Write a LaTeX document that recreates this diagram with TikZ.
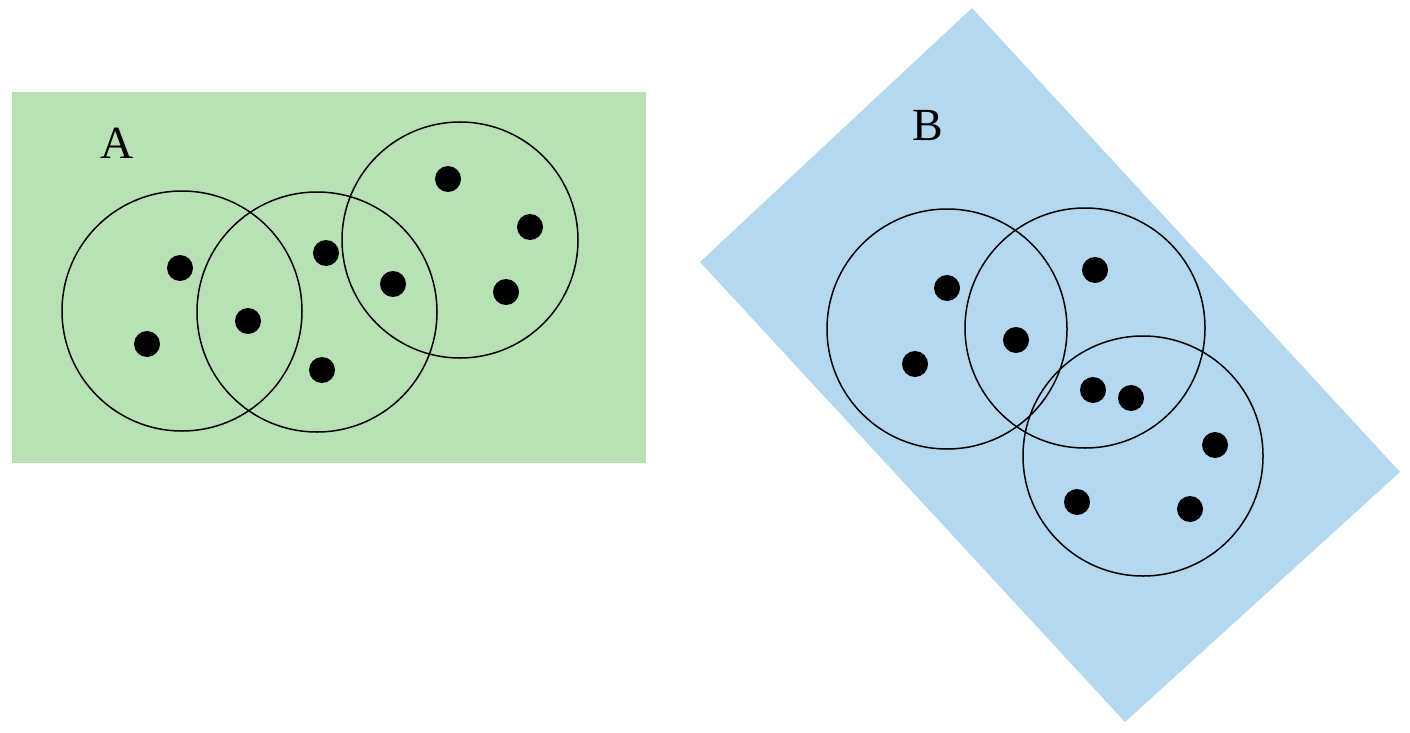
\documentclass[tikz,border=0pt]{standalone}
\usepackage{fontspec}
\setmainfont{Liberation Serif}
\definecolor{gA}{HTML}{B9E1B6}
\definecolor{bB}{HTML}{B3D8EF}
\begin{document}
\begin{tikzpicture}[x=1pt,y=-1pt,
  ring/.style={draw=black,line width=1.5pt},
  pt/.style={fill=black},
  lab/.style={font=\fontsize{46}{46}\selectfont}]
\useasboundingbox (0,0) rectangle (1410,733);
\fill[gA] (12,92) rectangle (646,463);
\fill[bB] (972,8) -- (1400,472) -- (1125,722) -- (700,262) -- cycle;
\foreach \x/\y/\r in {182/311/120,317/312/120,460/240/118,947/329/120,1085/328/120,1143/456/120}
  \draw[ring] (\x,\y) circle (\r);
\foreach \x/\y in {180/268,147/344,248/321,326/253,393/284,322/370,448/179,530/227,506/292,
  947/288,915/364,1016/340,1095/270,1093/390,1131/398,1215/445,1077/502,1190/509}
  \fill[pt] (\x,\y) circle (13);
\node[lab] (A) at (117,143) {A};
\node[lab] (B) at (928,126) {B};
\end{tikzpicture}
\end{document}
